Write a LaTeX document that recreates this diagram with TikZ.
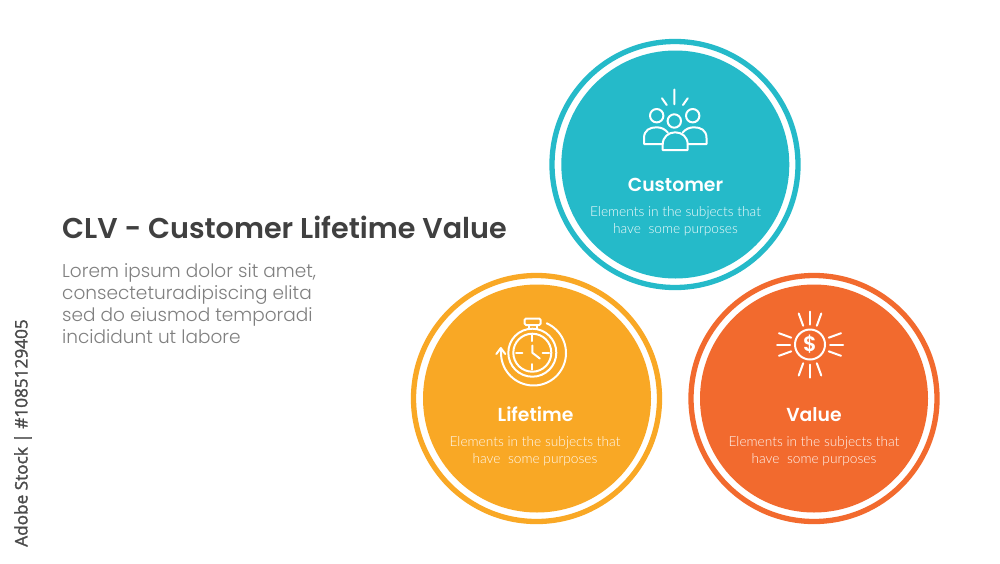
\documentclass[tikz,border=0pt]{standalone}
\usepackage{fontspec}
\setmainfont{Poppins}
\newfontfamily\popsemi{Poppins SemiBold}
\newfontfamily\poplight{Poppins Light}
\newfontfamily\lat{Lato Light}
\newfontfamily\stockfont{Open Sans}[FakeBold=1.6]
\definecolor{teal1}{HTML}{25BAC9}
\definecolor{amber1}{HTML}{F9A825}
\definecolor{orange1}{HTML}{F26A2E}
\definecolor{titlegray}{HTML}{404040}
\definecolor{bodygray}{HTML}{808080}
\definecolor{stockgray}{HTML}{4A4A4A}
\tikzset{
  ringc/.style={circle,draw=#1,line width=5.3pt,fill=white,minimum size=246pt,inner sep=0pt},
  discc/.style={circle,fill=#1,minimum size=228pt,inner sep=0pt},
  headc/.style={anchor=base,text=white,font=\popsemi\fontsize{18.8}{20}\selectfont,inner sep=0pt},
  descc/.style={text=white,opacity=.95,font=\lat\fontsize{13.72}{17}\selectfont,align=center,inner sep=0pt},
  iconl/.style={draw=white,line width=2pt,line cap=round,line join=round},
}
\begin{document}
\begin{tikzpicture}[x=1pt,y=-1pt]
\useasboundingbox (0,0) rectangle (1000,563);
\fill[white] (0,0) rectangle (1000,563);
% circles
\node[ringc=teal1] (ringA) at (675,164.5) {};
\node[discc=teal1] (discA) at (675.3,164.5) {};
\node[ringc=amber1] (ringB) at (536.5,398.5) {};
\node[discc=amber1] (discB) at (537,398.5) {};
\node[ringc=orange1] (ringC) at (814,398.5) {};
\node[discc=orange1] (discC) at (814,398.5) {};
% labels
\node[headc] (hA) at (675.5,191) {Customer};
\node[descc] (dA) at (675.5,221) {Elements in the subjects that\\have\ \ some purposes};
\node[headc] (hB) at (535.5,421) {Lifetime};
\node[descc] (dB) at (535,451) {Elements in the subjects that\\have\ \ some purposes};
\node[headc] (hC) at (814,421) {Value};
\node[descc] (dC) at (814,451) {Elements in the subjects that\\have\ \ some purposes};
% title
\node[anchor=west,inner sep=0pt,text=titlegray,font=\popsemi\fontsize{28.65}{32}\selectfont] (title) at (62,227) {CLV - Customer Lifetime Value};
\node[anchor=north west,inner sep=0pt,text=bodygray,align=left,font=\poplight\fontsize{18.5}{22}\selectfont] (body) at (62,263.5) {Lorem ipsum dolor sit amet,\\consecteturadipiscing elita\\sed do eiusmod temporadi\\incididunt ut labore};
\node[rotate=90,inner sep=0pt,text=stockgray,font=\stockfont\fontsize{17.2}{20}\selectfont] (stock) at (23,433) {Adobe Stock | \#1085129405};
% people icon
\draw[iconl] (656.7,115.7) circle (6.7) (674.3,121) circle (6.7) (692.7,115.7) circle (6.7);
\draw[iconl] (674.3,89.5)--(674.3,104.3) (662,98.3)--(666.7,105) (687.7,98.3)--(683,105);
\draw[iconl] (662.7,150)--(687.7,150)--(687.7,144.5) .. controls (687.7,137) and (682,132.3) .. (675.2,132.3) .. controls (668.4,132.3) and (662.7,137) .. (662.7,144.5) -- cycle;
\draw[iconl] (662.7,144)--(644,144)--(644,138) .. controls (644,130) and (650,127.3) .. (656.5,127.3) .. controls (661,127.3) and (665,129) .. (668,132.8);
\draw[iconl] (687.7,144)--(706.5,144)--(706.5,138) .. controls (706.5,130) and (700.5,127.3) .. (694,127.3) .. controls (689.5,127.3) and (685.5,129) .. (682.5,132.8);
% stopwatch icon
\draw[iconl] (532.3,352.7) circle (24) (532.3,352.7) circle (19);
\draw[iconl] (532.3,335)--(532.3,341) (532.3,364)--(532.3,369.5) (516,352.7)--(522.3,352.7) (542.5,352.7)--(549,352.7);
\draw[iconl] (532.3,345.5)--(532.3,352.7)--(539.8,358.5);
\draw[iconl,rounded corners=1.5pt] (524.5,318.5) rectangle (540.7,325);
\draw[iconl] (528.7,325)--(528.7,329) (536.7,325)--(536.7,329);
\draw[iconl] plot[domain=-66:186,samples=50,smooth] ({533.5+32.5*cos(\x)},{353+32.5*sin(\x)});
\draw[iconl] (496.3,354)--(500.8,348)--(505.3,354);
% dollar icon
\draw[iconl] (810,344.5) circle (15);
\foreach \a in {0,20,70,90,110,160,180,200,250,270,290,340}
  \draw[iconl] ({810+20*cos(\a)},{344.5+20*sin(\a)})--({810+33*cos(\a)},{344.5+33*sin(\a)});
\node[text=white,inner sep=0pt,font=\popsemi\fontsize{21}{22}\selectfont] (dollar) at (810,344.5) {\$};
\end{tikzpicture}
\end{document}
